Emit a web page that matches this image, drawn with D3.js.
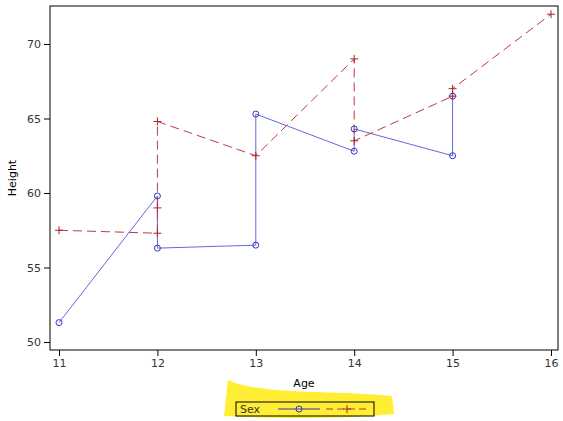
<!DOCTYPE html><html><head><script src="https://cdn.jsdelivr.net/npm/d3@7"></script>
<style>body{margin:0;background:#fff}text{font-family:"DejaVu Sans",sans-serif;font-size:11px}</style></head><body>
<svg id="c" width="563" height="421"></svg>
<script>
const femaleAge=[11,12,12,13,13,14,14,15,15];
const femaleHeight=[51.3,59.8,56.3,56.5,65.3,62.8,64.3,62.5,66.5];
const maleAge=[11,12,12,12,13,14,14,15,15,16];
const maleHeight=[57.5,57.3,59.0,64.8,62.5,69.0,63.5,66.5,67.0,72.0];
const xTicks=[11,12,13,14,15,16], yTicks=[50,55,60,65,70];
const svg=d3.select("#c");
const L=50,R=558,T=6,B=350;
const x=d3.scaleLinear().domain([11,16]).range([59,551]);
const y=d3.scaleLinear().domain([50,70]).range([342,44]);
svg.append("rect").attr("x",L).attr("y",T).attr("width",R-L).attr("height",B-T).attr("fill","none").attr("stroke","#000");
const xa=svg.append("g").attr("transform",`translate(0,${B})`).call(d3.axisBottom(x).tickValues(xTicks).tickFormat(d3.format("d")).tickSizeOuter(0));
const ya=svg.append("g").attr("transform",`translate(${L},0)`).call(d3.axisLeft(y).tickValues(yTicks).tickSizeOuter(0));
[xa,ya].forEach(a=>{a.select(".domain").remove();a.selectAll("text").attr("fill","#333");});
svg.append("text").attr("x",(L+R)/2).attr("y",387).attr("text-anchor","middle").text("Age");
svg.append("text").attr("transform",`translate(16,${(T+B)/2}) rotate(-90)`).attr("text-anchor","middle").text("Height");
const line=d3.line();
const fem=femaleAge.map((a,i)=>[x(a),y(femaleHeight[i])]);
const mal=maleAge.map((a,i)=>[x(a),y(maleHeight[i])]);
svg.append("path").attr("d",line(fem)).attr("fill","none").attr("stroke","#6666dd");
svg.append("path").attr("d",line(mal)).attr("fill","none").attr("stroke","#c0383c").attr("stroke-dasharray","9,5");
svg.selectAll(".f").data(fem).join("circle").attr("cx",d=>d[0]).attr("cy",d=>d[1]).attr("r",3).attr("fill","none").attr("stroke","#3333cc");
svg.selectAll(".m").data(mal).join("path").attr("d",d=>`M${d[0]-4},${d[1]}h8M${d[0]},${d[1]-4}v8`).attr("stroke","#b02030");
// highlight + legend
svg.append("path").attr("d","M228,380 C260,395 330,390 392,396 L394,414 C330,420 260,418 224,416 Z").attr("fill","#ffee33");
svg.append("rect").attr("x",236).attr("y",402).attr("width",138).attr("height",14).attr("fill","none").attr("stroke","#000");
svg.append("text").attr("x",240).attr("y",413).attr("fill","#333").text("Sex");
svg.append("line").attr("x1",278).attr("x2",320).attr("y1",409).attr("y2",409).attr("stroke","#3333cc");
svg.append("circle").attr("cx",299).attr("cy",409).attr("r",3).attr("fill","none").attr("stroke","#3333cc");
svg.append("line").attr("x1",326).attr("x2",368).attr("y1",409).attr("y2",409).attr("stroke","#c0383c").attr("stroke-dasharray","7,4");
svg.append("path").attr("d","M343,409h8M347,405v8").attr("stroke","#b02030");
</script></body></html>
